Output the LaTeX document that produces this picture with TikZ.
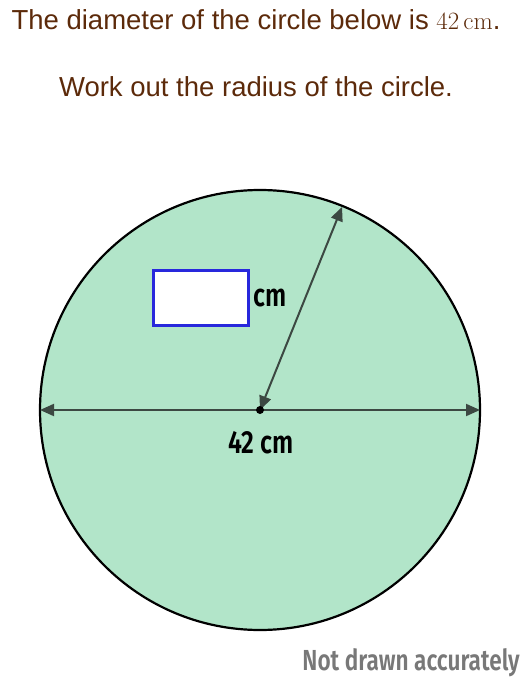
\documentclass[tikz,border=0pt]{standalone}
\usepackage[no-math]{fontspec}
\setmainfont{Liberation Sans}
\newfontfamily\condfont[FakeStretch=0.78,BoldFont={Fira Sans SemiBold},BoldFeatures={FakeStretch=0.78}]{Fira Sans}
\usetikzlibrary{arrows.meta,calc}
\definecolor{qbrown}{RGB}{92,42,10}
\definecolor{discfill}{RGB}{178,229,201}
\definecolor{linegray}{RGB}{60,72,66}
\definecolor{boxblue}{RGB}{40,40,220}
\definecolor{notegray}{RGB}{120,120,120}
\tikzset{
  question/.style={text=qbrown, font=\fontsize{27.5}{32}\selectfont},
  label/.style={font=\condfont\bfseries\fontsize{32}{36}\selectfont, text=black, inner sep=2pt},
  measure/.style={linegray, line width=2pt, {Triangle[width=12pt,length=14pt]}-{Triangle[width=12pt,length=14pt]}}
}
\begin{document}
\begin{tikzpicture}[x=1pt,y=-1pt]
        \useasboundingbox (0,0) rectangle (526,684);

        % Question text
        \node[question] (qone) at (256,20) {The diameter of the circle below is $42\,\mathrm{cm}$.};
        \node[question] (qtwo) at (256,87) {Work out the radius of the circle.};

        % Circle
        \draw[fill=discfill, line width=2.2pt] (260,410) circle (220);
        \coordinate (centre) at (260,410);
        \coordinate (west) at (40,410);
        \coordinate (east) at (480,410);
        \coordinate (rim) at ($(centre)+(-68:219)$);

        % Diameter
        \draw[measure] (west) -- (east);
        \node[label] (diam) at (261,443) {42 cm};

        % Radius
        \draw[measure] (centre) -- (rim);
        \fill[black] (centre) circle (4);

        % Answer box
        \node[draw=boxblue, fill=white, line width=2.2pt, minimum width=95pt, minimum height=55pt, inner sep=0pt] (answer) at (201,298) {};
        \node[label, anchor=west] (unit) at ([xshift=2pt]answer.east) {cm};

        % Note
        \node[label, text=notegray, font=\condfont\bfseries\fontsize{29}{32}\selectfont, anchor=east] (note) at (522,663) {Not drawn accurately};
\end{tikzpicture}
\end{document}
